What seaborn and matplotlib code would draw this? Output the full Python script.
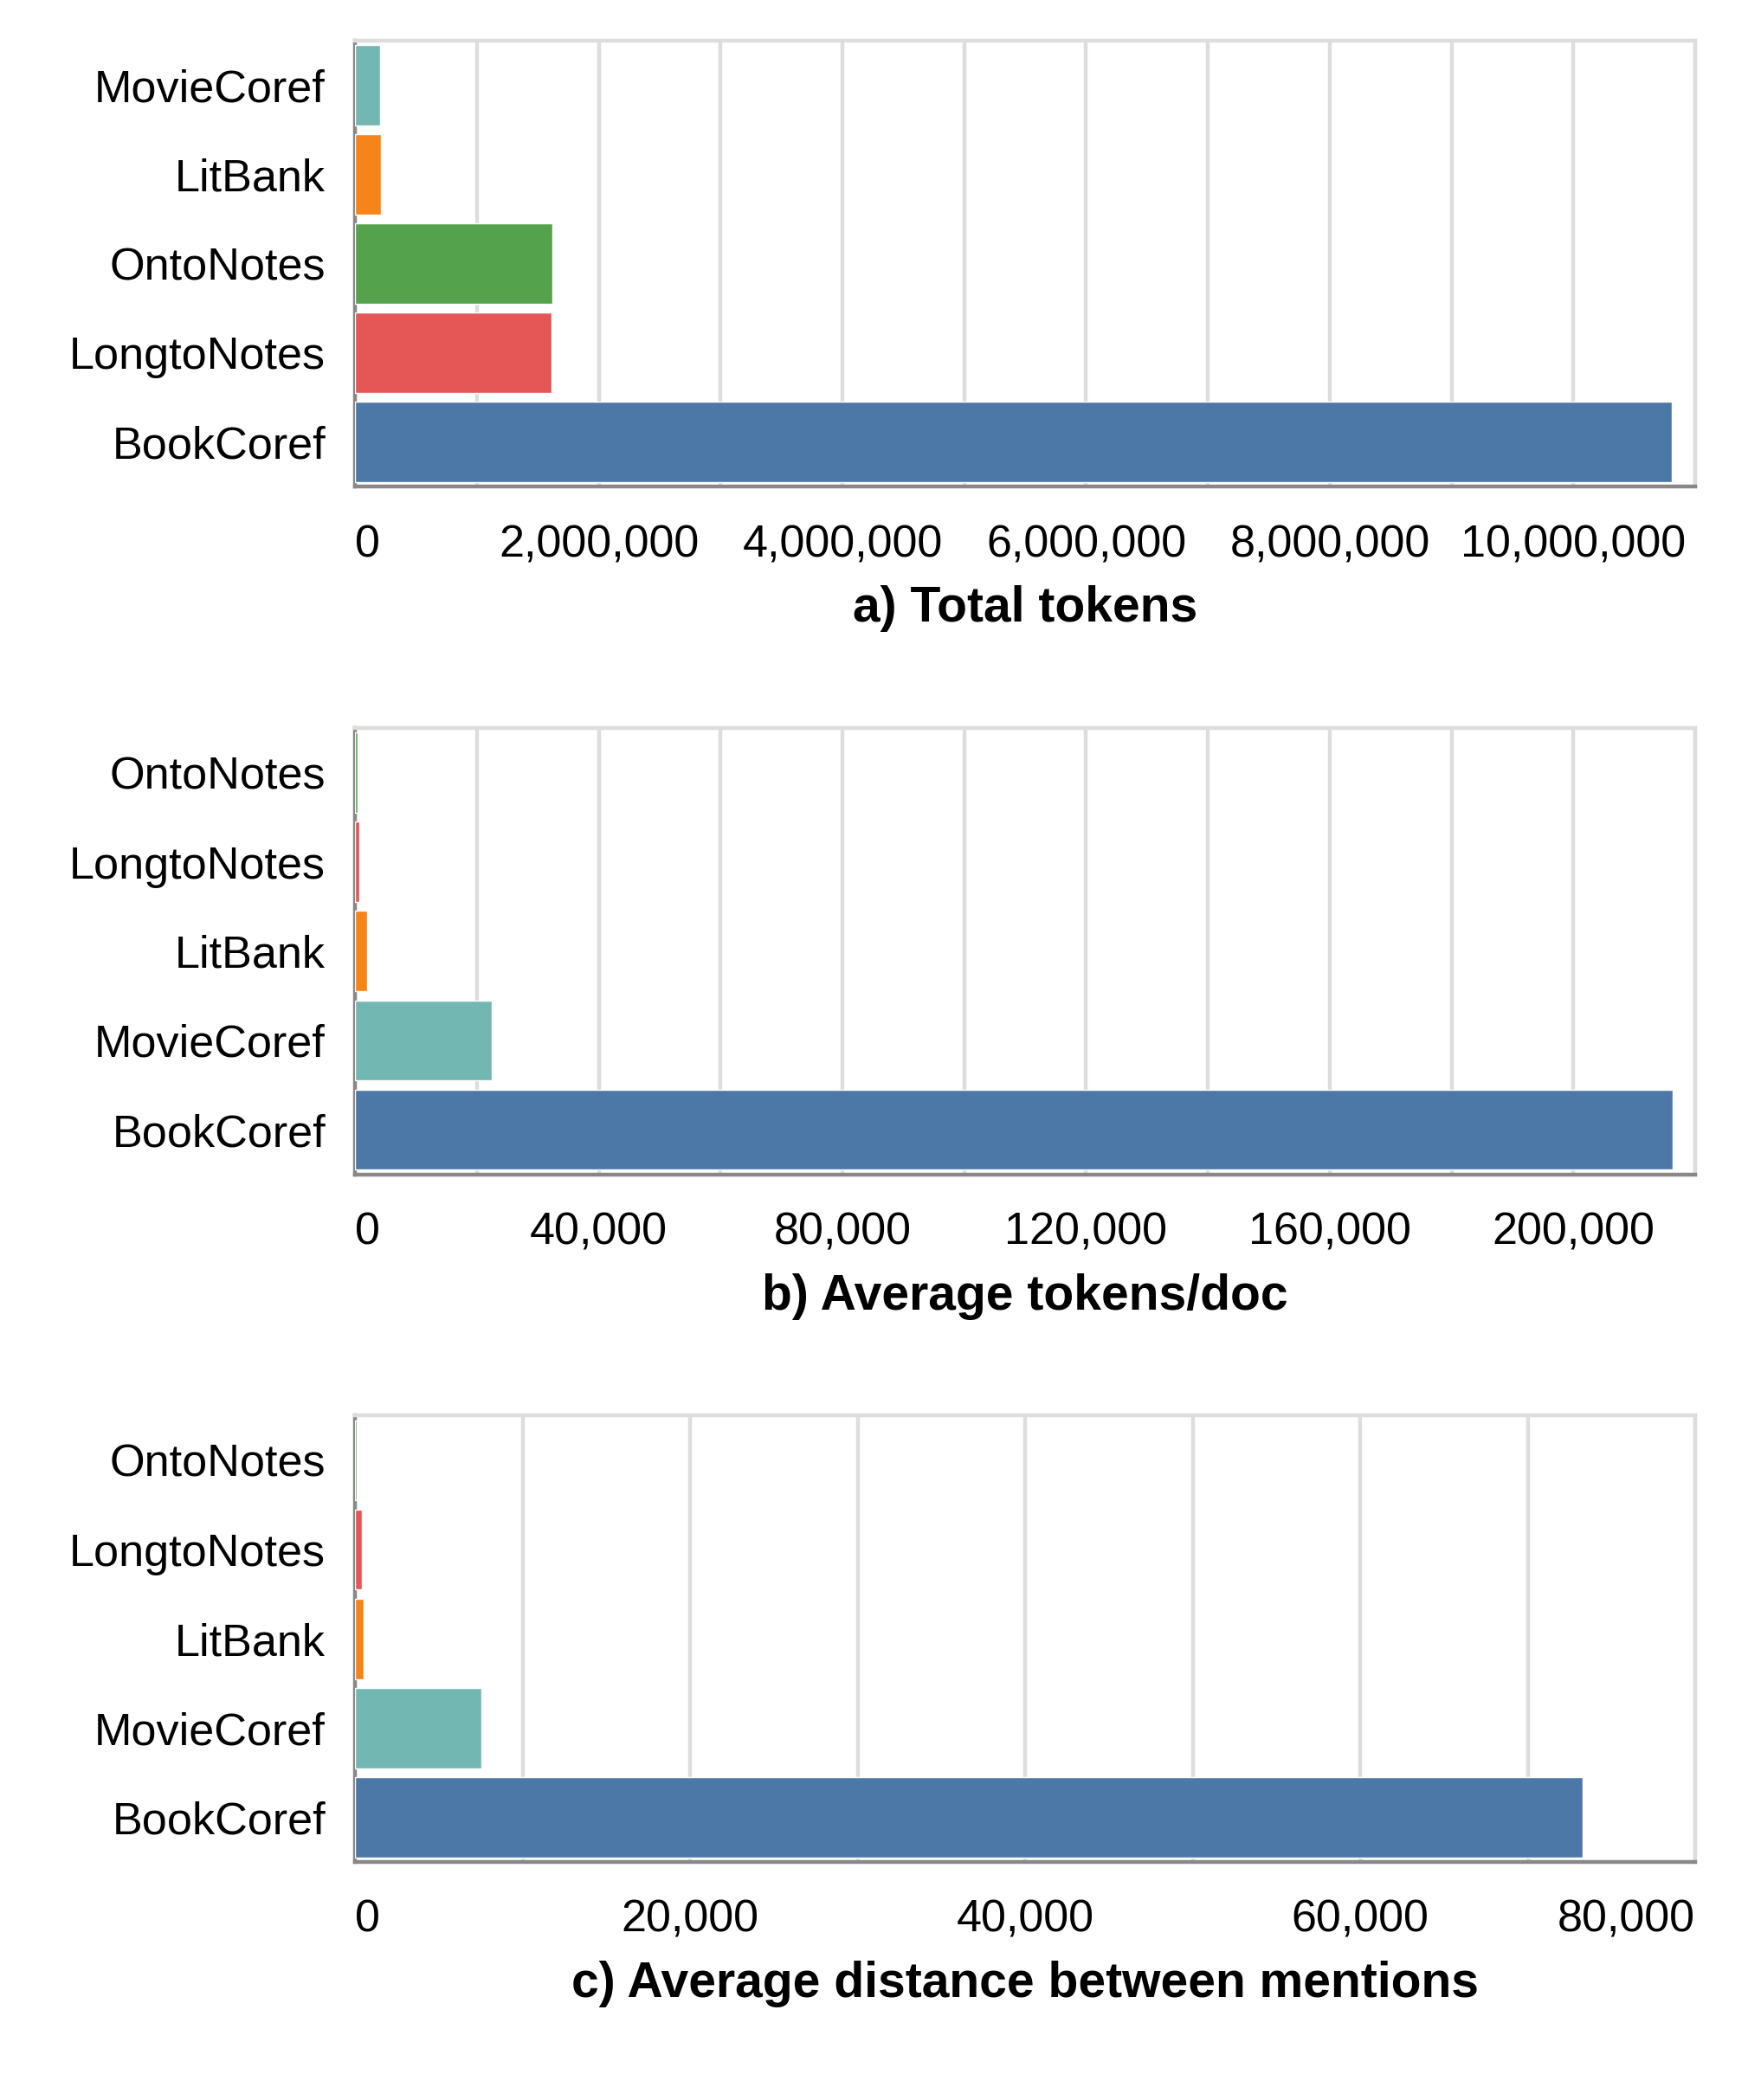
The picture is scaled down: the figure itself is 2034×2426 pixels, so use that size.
import matplotlib
matplotlib.use("Agg")
import matplotlib.pyplot as plt
import seaborn as sns
import pandas as pd
import numpy as np

# colours per dataset (vega tableau10)
palette = {
    'BookCoref': '#4c78a8',
    'LongtoNotes': '#e45756',
    'OntoNotes': '#54a24b',
    'LitBank': '#f58518',
    'MovieCoref': '#72b7b2',
}

# a) total tokens
total_names = ['MovieCoref', 'LitBank', 'OntoNotes', 'LongtoNotes', 'BookCoref']
total_tokens = [205000, 211000, 1620000, 1615000, 10810000]

# b) average tokens per document
avg_names = ['OntoNotes', 'LongtoNotes', 'LitBank', 'MovieCoref', 'BookCoref']
avg_tokens = [470, 680, 2050, 22400, 216300]

# c) average distance between mentions
dist_names = ['OntoNotes', 'LongtoNotes', 'LitBank', 'MovieCoref', 'BookCoref']
avg_distance = [110, 410, 500, 7550, 73250]

panels = [
    (total_names, total_tokens, 'a) Total tokens', 11000000, 1000000),
    (avg_names, avg_tokens, 'b) Average tokens/doc', 220000, 20000),
    (dist_names, avg_distance, 'c) Average distance between mentions', 80000, 10000),
]

sns.set_theme(style='white')
plt.rcParams['font.family'] = ['Liberation Sans', 'DejaVu Sans']

fig = plt.figure(figsize=(20.34, 24.26), dpi=100)
left, width, height = 0.2016, 0.7611, 0.2125
bottoms = [0.7683, 0.4408, 0.1134]

for (names, values, label, xmax, step), bottom in zip(panels, bottoms):
    ax = fig.add_axes([left, bottom, width, height])
    df = pd.DataFrame({'dataset': names, 'value': values})
    sns.barplot(data=df, x='value', y='dataset', hue='dataset', palette=palette,
                order=names, orient='h', width=0.9, saturation=1,
                legend=False, ax=ax, zorder=3)
    ax.set_xlim(0, xmax)
    ax.set_ylim(len(names) - 0.5, -0.5)

    # tick every step, label every second one
    ticks = np.arange(0, xmax + step / 2, step)
    labels = [f'{int(t):,}' if i % 2 == 0 else '' for i, t in enumerate(ticks)]
    ax.set_xticks(ticks, labels)
    xlabels = ax.get_xticklabels()
    xlabels[0].set_horizontalalignment('left')
    if labels[-1]:
        xlabels[-1].set_horizontalalignment('right')

    ax.grid(axis='x', color='#dddddd', lw=3.2, zorder=0)
    ax.grid(axis='y', visible=False)
    ax.set_axisbelow(True)
    for side in ['top', 'right']:
        ax.spines[side].set_color('#dddddd')
        ax.spines[side].set_linewidth(3.2)
    for side in ['left', 'bottom']:
        ax.spines[side].set_color('#888888')
        ax.spines[side].set_linewidth(3.2)
    ax.tick_params(axis='both', colors='#888888', labelcolor='black',
                   length=16.5, width=3.0, labelsize=37.5)
    ax.tick_params(axis='x', pad=14.5)
    ax.tick_params(axis='y', pad=8)
    ax.set_ylabel('')
    ax.set_xlabel(label, fontsize=41, fontweight='bold', color='black', labelpad=16)

fig.savefig('out.png', dpi=100, facecolor='white')
